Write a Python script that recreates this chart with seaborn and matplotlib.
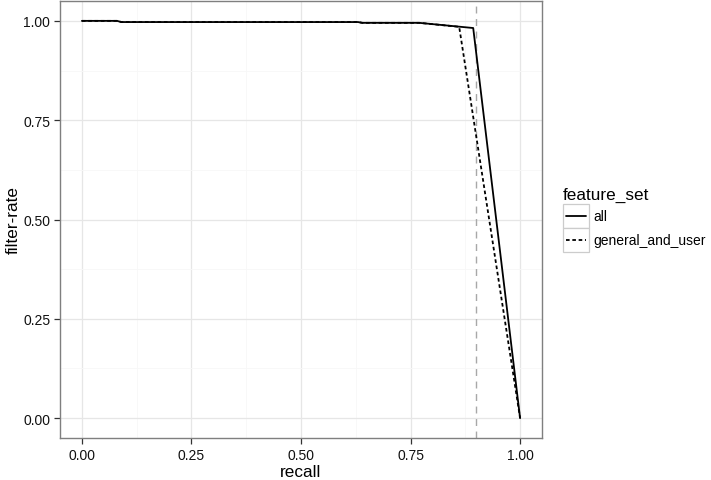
import matplotlib
matplotlib.use("Agg")
import matplotlib.pyplot as plt
import seaborn as sns
import pandas as pd
from matplotlib.patches import Rectangle
from matplotlib.lines import Line2D

# ---- data ----
recall_all = [0.0, 0.08, 0.09, 0.63, 0.64, 0.77, 0.893, 1.0]
filter_all = [1.0, 1.0, 0.997, 0.997, 0.995, 0.995, 0.982, 0.0]
recall_gu = [0.0, 0.08, 0.09, 0.63, 0.64, 0.77, 0.861, 1.0]
filter_gu = [1.0, 1.0, 0.997, 0.997, 0.995, 0.995, 0.985, 0.0]
series_names = ["all", "general_and_user"]
threshold_recall = 0.9
x_ticks = [0.0, 0.25, 0.5, 0.75, 1.0]
x_tick_labels = ["0.00", "0.25", "0.50", "0.75", "1.00"]
y_ticks = [0.0, 0.25, 0.5, 0.75, 1.0]
y_tick_labels = ["0.00", "0.25", "0.50", "0.75", "1.00"]

df = pd.DataFrame({
    "recall": recall_all + recall_gu,
    "filter-rate": filter_all + filter_gu,
    "feature_set": [series_names[0]] * len(recall_all) + [series_names[1]] * len(recall_gu),
})

sns.set_theme(style="white")
plt.rcParams["font.family"] = ["Liberation Sans", "DejaVu Sans"]

W, H = 711, 481
fig = plt.figure(figsize=(W / 100, H / 100), dpi=100)
L, R, T, B = 60, 542, 2, 439
ax = fig.add_axes([L / W, 1 - B / H, (R - L) / W, (B - T) / H])

dashes = {"all": "", "general_and_user": (2, 1.5)}
sns.lineplot(data=df, x="recall", y="filter-rate", style="feature_set",
             dashes=dashes, color="black", linewidth=1.3, estimator=None,
             sort=False, ax=ax, legend=False)

ax.axvline(threshold_recall, color="#a8a8a8", linewidth=1.0, dashes=(5, 4), zorder=1)

ax.set_xlim(-0.05, 1.05)
ax.set_ylim(-0.05, 1.05)
ax.set_xticks(x_ticks)
ax.set_xticklabels(x_tick_labels)
ax.set_yticks(y_ticks)
ax.set_yticklabels(y_tick_labels)
ax.set_xticks([0.125, 0.375, 0.625, 0.875], minor=True)
ax.set_yticks([0.125, 0.375, 0.625, 0.875], minor=True)
ax.grid(True, which="major", color="#e6e6e6", linewidth=0.9, zorder=0)
ax.grid(True, which="minor", color="#f7f7f7", linewidth=0.6, zorder=0)
ax.set_axisbelow(True)
for s in ax.spines.values():
    s.set_color("#7f7f7f")
    s.set_linewidth(1.0)
ax.tick_params(axis="both", which="major", direction="out", length=4, width=0.9,
               color="#333333", labelsize=10, labelcolor="#111111", pad=3, bottom=True, left=True)
ax.tick_params(axis="both", which="minor", length=0)
ax.set_xlabel("recall", fontsize=12.3, color="black", labelpad=2)
ax.set_ylabel("filter-rate", fontsize=12.3, color="black", labelpad=2)

# ---- legend (ggplot style) ----
def fx(px):
    return px / W

def fy(py):
    return 1 - py / H

fig.text(fx(563), fy(195), "feature_set", fontsize=12.3, va="center", ha="left", color="black")
key_x0, key_w, key_h = 563, 26, 24
key_tops = [205, 229]
for name, top in zip(series_names, key_tops):
    fig.patches.append(Rectangle((fx(key_x0), fy(top + key_h)), key_w / W, key_h / H,
                                 transform=fig.transFigure, facecolor="white",
                                 edgecolor="#cccccc", linewidth=0.9))
    cy = top + key_h / 2
    ls_kw = {} if dashes[name] == "" else {"dashes": (2, 1.5)}
    fig.lines.append(Line2D([fx(key_x0 + 3), fx(key_x0 + key_w - 3)], [fy(cy), fy(cy)],
                            transform=fig.transFigure, color="black", linewidth=1.3, **ls_kw))
    fig.text(fx(key_x0 + key_w + 4), fy(cy), name, fontsize=10, va="center", ha="left", color="black")

fig.savefig("out.png", dpi=100)
